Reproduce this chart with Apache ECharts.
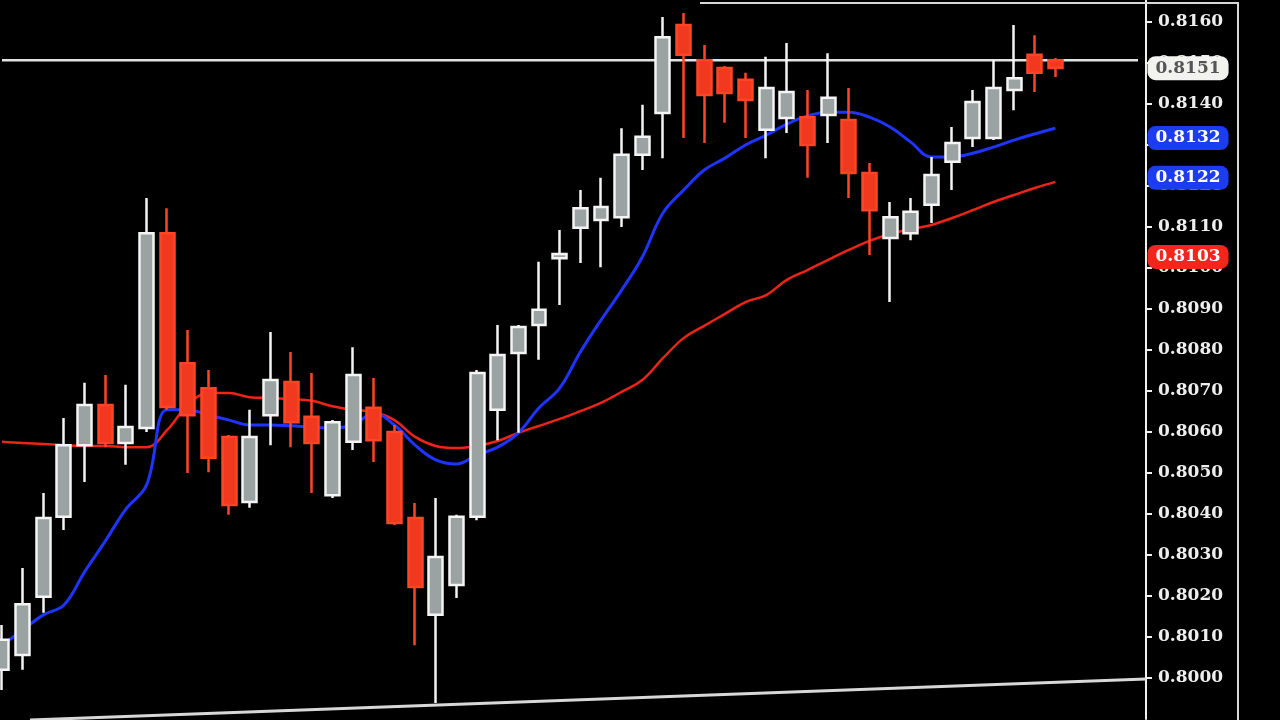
<!DOCTYPE html>
<html><head><meta charset="utf-8">
<script src="https://cdn.jsdelivr.net/npm/echarts@6/dist/echarts.min.js"></script>
<style>html,body{margin:0;padding:0;background:#000}#c{width:1280px;height:720px}</style>
</head><body><div id="c"></div>
<script>
// candle values, one per bar (price)
const opens  = [0.80020,0.80056,0.80198,0.80393,0.80568,0.80666,0.80573,0.80610,0.81085,0.80768,0.80707,0.80588,0.80429,0.80641,0.80722,0.80637,0.80446,0.80576,0.80659,0.80600,0.80390,0.80154,0.80227,0.80393,0.80654,0.80793,0.80861,0.81024,0.81098,0.81117,0.81124,0.81276,0.81378,0.81593,0.81507,0.81488,0.81459,0.81337,0.81366,0.81368,0.81373,0.81361,0.81232,0.81073,0.81085,0.81154,0.81259,0.81317,0.81317,0.81434,0.81520,0.81507];
const closes = [0.80093,0.80180,0.80390,0.80568,0.80666,0.80573,0.80612,0.81085,0.80661,0.80641,0.80537,0.80422,0.80588,0.80727,0.80624,0.80573,0.80624,0.80739,0.80580,0.80378,0.80222,0.80295,0.80393,0.80744,0.80788,0.80856,0.80898,0.81034,0.81146,0.81149,0.81276,0.81320,0.81563,0.81520,0.81422,0.81427,0.81410,0.81439,0.81429,0.81300,0.81415,0.81232,0.81141,0.81124,0.81137,0.81227,0.81305,0.81405,0.81439,0.81463,0.81476,0.81488];
const lows   = [0.79971,0.80020,0.80159,0.80361,0.80478,0.80563,0.80520,0.80600,0.80654,0.80500,0.80502,0.80398,0.80415,0.80568,0.80563,0.80451,0.80439,0.80556,0.80527,0.80373,0.80080,0.79939,0.80195,0.80385,0.80580,0.80598,0.80776,0.80910,0.81012,0.81002,0.81100,0.81239,0.81268,0.81317,0.81305,0.81354,0.81317,0.81268,0.81329,0.81220,0.81305,0.81171,0.81032,0.80917,0.81068,0.81110,0.81190,0.81295,0.81312,0.81385,0.81429,0.81466];
const highs  = [0.80129,0.80268,0.80451,0.80634,0.80720,0.80739,0.80715,0.81171,0.81146,0.80849,0.80751,0.80593,0.80654,0.80844,0.80795,0.80744,0.80629,0.80807,0.80732,0.80617,0.80427,0.80439,0.80398,0.80751,0.80861,0.80861,0.81015,0.81093,0.81190,0.81220,0.81341,0.81398,0.81612,0.81622,0.81544,0.81493,0.81476,0.81515,0.81549,0.81434,0.81524,0.81439,0.81256,0.81161,0.81171,0.81271,0.81344,0.81434,0.81507,0.81593,0.81568,0.81512];
// moving averages
const maFast = [0.80080,0.80117,0.80154,0.80178,0.80259,0.80334,0.80412,0.80471,0.80654,0.80654,0.80641,0.80629,0.80617,0.80617,0.80615,0.80612,0.80610,0.80617,0.80646,0.80617,0.80568,0.80532,0.80522,0.80544,0.80563,0.80598,0.80659,0.80707,0.80795,0.80873,0.80946,0.81027,0.81134,0.81190,0.81239,0.81268,0.81300,0.81324,0.81351,0.81371,0.81380,0.81380,0.81368,0.81344,0.81307,0.81271,0.81271,0.81280,0.81295,0.81312,0.81327,0.81341];
const maSlow = [0.80576,0.80573,0.80571,0.80568,0.80566,0.80566,0.80563,0.80563,0.80605,0.80666,0.80695,0.80695,0.80685,0.80683,0.80680,0.80676,0.80663,0.80654,0.80649,0.80629,0.80588,0.80566,0.80561,0.80566,0.80578,0.80598,0.80615,0.80632,0.80651,0.80671,0.80698,0.80727,0.80780,0.80829,0.80859,0.80888,0.80917,0.80934,0.80971,0.80995,0.81020,0.81044,0.81066,0.81083,0.81095,0.81105,0.81122,0.81141,0.81161,0.81178,0.81195,0.81210];
// axis tags and price line
const lastPrice = 0.81507;
const fastTags = [0.81317, 0.81220];
const slowTags = [0.81027];
// axis settings
const yMin = 0.7990, yStep = 0.0010, yMax = 0.816537;
const emptySlots = 4;

const categories = [];
for (let i = 0; i < opens.length + emptySlots; i++) categories.push(String(i + 1));
const lastIdx = categories.length - 1;
const candles = opens.map((o, i) => [o, closes[i], lows[i], highs[i]]);

const tagFont = {fontFamily: 'DejaVu Serif', fontWeight: 'bold', fontSize: 17};
function tagSeries(name, vals, bg, fg, dy) {
  return {
    type: 'scatter', name: name, silent: true, clip: false, z: 10,
    symbolSize: 1, itemStyle: {color: 'rgba(0,0,0,0)'},
    data: vals.map(v => [lastIdx, v]),
    label: Object.assign({
      show: true, position: 'right', distance: 9, offset: [0, dy], opacity: 1,
      color: fg, backgroundColor: bg, borderRadius: 8, padding: [4, 8, 3, 8],
      formatter: p => p.value[1].toFixed(4)
    }, tagFont)
  };
}

const chart = echarts.init(document.getElementById('c'));
chart.setOption({
  backgroundColor: '#000',
  animation: false,
  grid: {left: 2, right: 142, top: 0, bottom: 1},
  xAxis: {
    type: 'category', data: categories, boundaryGap: false,
    axisLine: {show: false}, axisTick: {show: false}, axisLabel: {show: false}, splitLine: {show: false}
  },
  yAxis: {
    type: 'value', position: 'right', offset: 8, min: yMin, max: yMax, interval: yStep,
    axisLine: {show: true, lineStyle: {color: '#f0f0f0', width: 2}},
    axisTick: {show: true, length: 6, lineStyle: {color: '#f0f0f0', width: 2}},
    splitLine: {show: false},
    axisLabel: Object.assign({color: '#eeeeee', margin: 12, showMinLabel: false, showMaxLabel: false,
      formatter: v => v.toFixed(4)}, tagFont)
  },
  graphic: [
    {type: 'polyline', silent: true, z: 100, shape: {points: [[700, 3], [1238, 3], [1238, 720]]},
     style: {stroke: '#d8d8d8', lineWidth: 2, fill: null}},
    {type: 'line', silent: true, z: 100, shape: {x1: 30, y1: 720, x2: 1146, y2: 679},
     style: {stroke: '#d8d8d8', lineWidth: 3}}
  ],
  series: [
    {
      type: 'line', name: 'Price line', silent: true, z: 1, showSymbol: false, clip: false,
      data: [[0, lastPrice], [lastIdx, lastPrice]],
      lineStyle: {color: '#e2e2e2', width: 2.5}
    },
    {
      type: 'line', name: 'MA slow', data: maSlow, smooth: 0.4, showSymbol: false, z: 2,
      lineStyle: {color: '#ee2418', width: 2.5}
    },
    {
      type: 'line', name: 'MA fast', data: maFast, smooth: 0.4, showSymbol: false, z: 2,
      lineStyle: {color: '#1f34ff', width: 3}
    },
    {
      type: 'candlestick', name: 'Price', data: candles, barWidth: '70%', z: 3, clip: false,
      itemStyle: {
        color: '#9ba2a2', borderColor: '#f4f4f4',
        color0: '#f0391f', borderColor0: '#ff4526',
        borderWidth: 2.5
      }
    },
    tagSeries('Price tag', [lastPrice], '#f2f2ee', '#555555', 8),
    tagSeries('MA fast tag', fastTags, '#1b3cf0', '#ffffff', 0),
    tagSeries('MA slow tag', slowTags, '#f2261a', '#ffffff', 0)
  ]
});
</script></body></html>
